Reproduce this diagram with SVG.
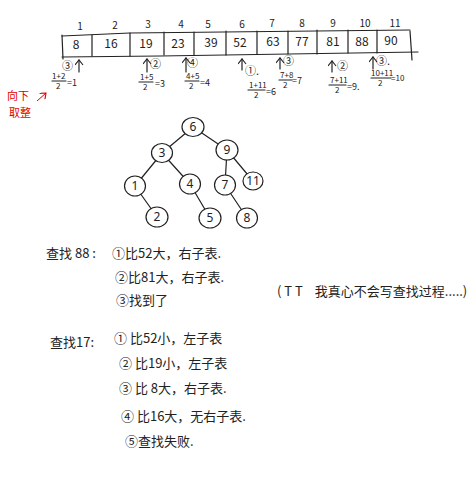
<svg xmlns="http://www.w3.org/2000/svg" width="474" height="486" viewBox="0 0 474 486">
<style>
.ln{fill:none;stroke:#222;stroke-width:1.2;stroke-linecap:round;stroke-linejoin:round}
.t{font-family:"Noto Sans CJK SC","Noto Sans",sans-serif;fill:#222}
.idx{font-size:10px}
.val{font-size:12px}
.f{font-size:8px}
.c{font-size:11px}
.tx{font-size:13px}
.nd ellipse{fill:#fff;stroke:#222;stroke-width:1.2}
.nd text{font-family:"Noto Sans",sans-serif;font-size:12px;fill:#222;text-anchor:middle}
.red{fill:#d00;font-family:"Noto Sans CJK SC",sans-serif;font-size:11px}
</style>
<defs>
<marker id="ah" markerWidth="8" markerHeight="10" refX="6" refY="4" orient="auto" markerUnits="userSpaceOnUse">
<path d="M1,0 L6,4 L1,8" fill="none" stroke="#222" stroke-width="1.1"/>
</marker>
<marker id="ahr" markerWidth="8" markerHeight="8" refX="7" refY="4" orient="auto" markerUnits="userSpaceOnUse">
<path d="M2,0 L7,4 L2,8" fill="none" stroke="#d00" stroke-width="1.1"/>
</marker>
</defs>
<rect width="474" height="486" fill="#fff"/>

<g id="array">
<path class="ln" d="M62,36 L130,33 L410,30"/>
<path class="ln" d="M62,57 L160,56 L418,52"/>
<path class="ln" d="M62,35 L63,59"/>
<path class="ln" d="M92,35 L92,56 M130,33 L130,56 M164,32 L164,55 M194,32 L194,55 M226,31 L226,55 M257,31 L257,54 M288,31 L288,54 M317,30 L317,54 M348,30 L348,53 M377,30 L377,53 M410,31 L412,60"/>
<g class="t idx" text-anchor="middle">
<text x="80" y="30">1</text><text x="115" y="29">2</text><text x="148" y="28">3</text><text x="181" y="28">4</text><text x="208" y="28">5</text><text x="242" y="28">6</text><text x="272" y="27">7</text><text x="302" y="27">8</text><text x="333" y="27">9</text><text x="365" y="27">10</text><text x="395" y="27">11</text>
</g>
<g class="t val" text-anchor="middle">
<text x="76" y="49">8</text><text x="111" y="48">16</text><text x="146" y="48">19</text><text x="178" y="48">23</text><text x="211" y="47">39</text><text x="240" y="47">52</text><text x="273" y="46">63</text><text x="302" y="46">77</text><text x="333" y="46">81</text><text x="362" y="46">88</text><text x="391" y="45">90</text>
</g>
</g>

<g id="pointers">
<path class="ln" marker-end="url(#ah)" d="M79,72 L79,60"/>
<text class="t c" x="62" y="70">③</text>
<path class="ln" marker-end="url(#ah)" d="M147,72 L147,59"/>
<text class="t c" x="150" y="68">②</text>
<path class="ln" marker-end="url(#ah)" d="M186,72 L186,58"/>
<text class="t c" x="187" y="67">④</text>
<path class="ln" marker-end="url(#ah)" d="M242,70 L242,59"/>
<text class="t c" x="245" y="75">①.</text>
<path class="ln" marker-end="url(#ah)" d="M280,69 L280,58"/>
<text class="t c" x="283" y="65">③</text>
<path class="ln" marker-end="url(#ah)" d="M332,72 L332,61"/>
<text class="t c" x="337" y="70">②</text>
<path class="ln" marker-end="url(#ah)" d="M373,69 L373,57"/>
<text class="t c" x="376" y="65">③.</text>
</g>

<g id="formulas" class="t f">
<text x="52" y="79">1+2</text><path class="ln" d="M52,81 L66,81"/><text x="56" y="89">2</text><text x="67" y="86" font-size="9">=1</text>
<text x="140" y="80">1+5</text><path class="ln" d="M139,82 L153,82"/><text x="143" y="90">2</text><text x="155" y="87" font-size="9">=3</text>
<text x="186" y="79">4+5</text><path class="ln" d="M185,81 L199,81"/><text x="189" y="89">2</text><text x="200" y="86" font-size="9">=4</text>
<text x="249" y="88">1+11</text><path class="ln" d="M248,90 L265,90"/><text x="254" y="98">2</text><text x="266" y="95" font-size="9">=6</text>
<text x="280" y="78">7+8</text><path class="ln" d="M279,80 L292,80"/><text x="283" y="88">2</text><text x="292" y="84" font-size="9">=7</text>
<text x="330" y="83">7+11</text><path class="ln" d="M329,85 L346,85"/><text x="335" y="93">2</text><text x="347" y="90" font-size="9">=9.</text>
<text x="371" y="76">10+11</text><path class="ln" d="M371,78 L391,78"/><text x="378" y="86">2</text><text x="391" y="81" font-size="8">=10</text>
</g>

<g id="note-red">
<text class="red" x="7" y="100">向下</text>
<text class="red" x="9" y="117">取整</text>
<path d="M37,101 L46,93" fill="none" stroke="#d00" stroke-width="1" marker-end="url(#ahr)"/>
</g>

<g id="edges">
<path class="ln" d="M193,127 L162,153 M193,127 L227,150 M162,153 L135,186 M162,153 L190,184 M227,150 L225,185 M227,150 L253,181 M135,186 L157,217 M190,184 L210,218 M225,185 L247,218"/>
</g>
<g id="n6" class="nd"><ellipse cx="193" cy="127" rx="11" ry="9.5"/><text x="193" y="131">6</text></g>
<g id="n3" class="nd"><ellipse cx="162" cy="153" rx="10.5" ry="9.5"/><text x="162" y="157">3</text></g>
<g id="n9" class="nd"><ellipse cx="227" cy="150" rx="11" ry="10"/><text x="227" y="154">9</text></g>
<g id="n1" class="nd"><ellipse cx="135" cy="186" rx="10.5" ry="10"/><text x="135" y="190">1</text></g>
<g id="n4" class="nd"><ellipse cx="190" cy="184" rx="10.5" ry="10"/><text x="190" y="188">4</text></g>
<g id="n7" class="nd"><ellipse cx="225" cy="185" rx="10.5" ry="10"/><text x="225" y="189">7</text></g>
<g id="n11" class="nd"><ellipse cx="253" cy="181" rx="10" ry="9"/><text x="253" y="185">11</text></g>
<g id="n2" class="nd"><ellipse cx="157" cy="217" rx="11" ry="10"/><text x="157" y="221">2</text></g>
<g id="n5" class="nd"><ellipse cx="210" cy="218" rx="11" ry="10"/><text x="210" y="222">5</text></g>
<g id="n8" class="nd"><ellipse cx="247" cy="218" rx="10.5" ry="10"/><text x="247" y="222">8</text></g>

<g id="search88" class="t tx">
<text x="46" y="258">查找 88 :</text>
<text x="112" y="258">①比52大，右子表.</text>
<text x="115" y="282">②比81大，右子表.</text>
<text x="116" y="305">③找到了</text>
</g>

<g id="remark" class="t tx">
<text x="277" y="296">( T T<tspan dx="12">我真心不会写查找过程.....)</tspan></text>
</g>

<g id="search17" class="t tx">
<text x="50" y="347">查找17:</text>
<text x="114" y="343">① 比52小，左子表</text>
<text x="119" y="368">② 比19小，左子表</text>
<text x="119" y="393">③ 比 8大，右子表.</text>
<text x="121" y="421">④ 比16大，无右子表.</text>
<text x="125" y="446">⑤查找失败.</text>
</g>
</svg>
